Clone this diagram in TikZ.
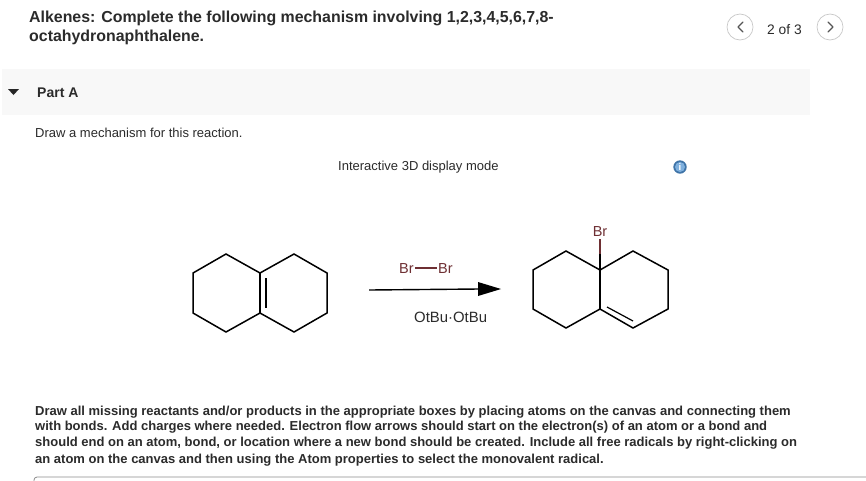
\documentclass[tikz,border=0pt]{standalone}
\usepackage{fontspec}
\setmainfont{Liberation Sans}
\usetikzlibrary{arrows.meta}
\definecolor{brcol}{HTML}{6E2F33}
\definecolor{txt}{HTML}{2B2B2B}
\definecolor{band}{HTML}{F8F8F8}
\definecolor{ringc}{HTML}{C8C8C8}
\definecolor{chev}{HTML}{555555}
\definecolor{infoout}{HTML}{3F74A8}
\definecolor{infoin}{HTML}{7FB0DE}
\tikzset{
  txtline/.style={anchor=base west,inner sep=0pt,text=txt},
  title/.style={txtline,font=\fontsize{15.9}{18}\selectfont\bfseries},
  instr/.style={txtline,font=\fontsize{13}{15}\selectfont\bfseries},
  plain/.style={txtline,font=\fontsize{13}{15}\selectfont},
  bondl/.style={line width=1.5pt,black,line join=miter},
  atom/.style={inner sep=0pt,font=\fontsize{14.5}{16}\selectfont,text=brcol},
  navbtn/.style={circle,draw=ringc,line width=0.7pt,minimum size=26pt,inner sep=0pt,fill=white},
  chevron/.style={draw=chev,line width=1.2pt,line cap=round,line join=round}
}
\begin{document}
\begin{tikzpicture}[x=1pt,y=-1pt]
\useasboundingbox (0,0) rectangle (866,480);
\fill[white] (0,0) rectangle (866,480);
% header
\node[title] (t1) at (29,22) {Alkenes: Complete the following mechanism involving 1,2,3,4,5,6,7,8-};
\node[title] (t2) at (29,41) {octahydronaphthalene.};
\node[navbtn] (prev) at (740,27) {};
\draw[chevron] (743,22) -- (738,27) -- (743,32);
\node[txtline,font=\fontsize{13.8}{15}\selectfont] (pg) at (767,34) {2 of 3};
\node[navbtn] (next) at (830,27) {};
\draw[chevron] (828,22) -- (833,27) -- (828,32);
% part band
\fill[band] (2,69) rectangle (810,115);
\fill[black!85] (8,89) -- (19,89) -- (13.5,95) -- cycle;
\node[txtline,font=\fontsize{14}{15}\selectfont\bfseries] (pa) at (37,97) {Part A};
\node[plain] (d) at (35,137) {Draw a mechanism for this reaction.};
\node[plain] (i3d) at (338,170) {Interactive 3D display mode};
% info icon
\fill[infoout] (680,167) circle (6.7);
\fill[infoin] (680,167) circle (5);
\node[inner sep=0pt,text=white,font=\fontsize{9.5}{9}\selectfont\bfseries] (infoi) at (680,167) {i};
% left molecule
\foreach \n/\x/\y in {a1/193/273,a2/226/254,a3/260/273,a4/294/254,a5/327/273,a6/327/313,a7/294/332,a8/260/313,a9/226/332,a10/193/313}
  \coordinate (\n) at (\x,\y);
\draw[bondl] (a1)--(a2)--(a3)--(a4)--(a5)--(a6)--(a7)--(a8)--(a9)--(a10)--cycle;
\draw[bondl] (a3)--(a8);
\coordinate (d1) at (266,278); \coordinate (d2) at (266,308);
\draw[bondl,line width=1.2pt] (d1)--(d2);
% reagent
\node[atom,anchor=base west] (br1) at (399,273) {Br};
\node[atom,anchor=base west] (br2) at (438,273) {Br};
\draw[brcol,line width=1.4pt] (br1.east)++(1.5,0) -- ([xshift=-1pt]br2.west);
\coordinate (arrS) at (369,290); \coordinate (arrE) at (501,289);
\draw[line width=1.4pt] (arrS) -- (479,289);
\fill (arrE) -- (478,282) -- (478,296) -- cycle;
\node[txtline,font=\fontsize{14.9}{15}\selectfont] (ob) at (414,322) {OtBu·OtBu};
% right molecule
\foreach \n/\x/\y in {b1/533/270,b2/566/251,b3/600/270,b4/633/251,b5/668/270,b6/668/309,b7/633/328,b8/600/309,b9/566/328,b10/533/309}
  \coordinate (\n) at (\x,\y);
\draw[bondl] (b1)--(b2)--(b3)--(b4)--(b5)--(b6)--(b7)--(b8)--(b9)--(b10)--cycle;
\draw[bondl] (b3)--(b8);
\coordinate (e1) at (607,307); \coordinate (e2) at (633,321);
\draw[bondl,line width=1.2pt] (e1)--(e2);
\node[atom] (br3) at (600,232) {Br};
\coordinate (bm) at (600,254);
\draw[bondl] (b3) -- (bm);
\draw[brcol,line width=1.5pt] (bm) -- ([yshift=-1.5pt]br3.south);
% instructions
\node[instr] (l1) at (35,415) {Draw all missing reactants and/or products in the appropriate boxes by placing atoms on the canvas and connecting them};
\node[instr] (l2) at (35,430) {with bonds. Add charges where needed. Electron flow arrows should start on the electron(s) of an atom or a bond and};
\node[instr] (l3) at (35,446) {should end on an atom, bond, or location where a new bond should be created. Include all free radicals by right-clicking on};
\node[instr] (l4) at (35,463) {an atom on the canvas and then using the Atom properties to select the monovalent radical.};
% canvas edge
\draw[black!45,line width=0.8pt] (34,481) -- (34,480) arc (180:270:3) -- (866,477);
\end{tikzpicture}
\end{document}
